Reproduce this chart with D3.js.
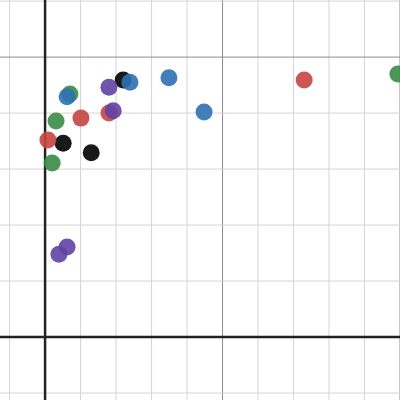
<!DOCTYPE html>
<html><head><meta charset="utf-8">
<script src="https://cdn.jsdelivr.net/npm/d3@7"></script>
<style>body{margin:0;background:#fff}svg{display:block}</style>
</head><body>
<svg id="c" width="400" height="400"></svg>
<script>
const xDomain=[-1.27,10];
const yDomain=[-1.125,6.02];
const seriesNames=["green","black","red","blue","purple"];
const seriesColors=["#388c46","#000000","#c74440","#2d70b3","#6042a6"];
const greenPts=[[0.70,4.34],[0.31,3.86],[0.20,3.11],[9.94,4.70]];
const blackPts=[[2.20,4.59],[0.51,3.46],[1.30,3.29]];
const redPts=[[0.08,3.52],[1.01,3.91],[1.80,4.0],[7.30,4.59]];
const bluePts=[[0.62,4.29],[2.39,4.55],[3.49,4.63],[4.48,4.02]];
const purplePts=[[1.80,4.46],[1.92,4.04],[0.62,1.61],[0.39,1.48]];
const allSeries=[greenPts,blackPts,redPts,bluePts,purplePts];

const svg=d3.select("#c");
const x=d3.scaleLinear().domain(xDomain).range([0,400]);
const y=d3.scaleLinear().domain(yDomain).range([400,0]);
const xt=d3.range(-1,11), yt=d3.range(-1,7);
svg.append("g").selectAll("line").data(xt).join("line")
 .attr("x1",d=>x(d)).attr("x2",d=>x(d)).attr("y1",0).attr("y2",400)
 .attr("stroke",d=>d%5===0?"#8c8c8c":"#d4d4d4").attr("stroke-width",1);
svg.append("g").selectAll("line").data(yt).join("line")
 .attr("y1",d=>y(d)).attr("y2",d=>y(d)).attr("x1",0).attr("x2",400)
 .attr("stroke",d=>d%5===0?"#8c8c8c":"#d4d4d4").attr("stroke-width",1);
svg.append("line").attr("x1",x(0)).attr("x2",x(0)).attr("y1",0).attr("y2",400).attr("stroke","#222").attr("stroke-width",2.5);
svg.append("line").attr("y1",y(0)).attr("y2",y(0)).attr("x1",0).attr("x2",400).attr("stroke","#222").attr("stroke-width",2.5);
allSeries.forEach((pts,i)=>{
 svg.append("g").selectAll("circle").data(pts).join("circle")
  .attr("cx",d=>x(d[0])).attr("cy",d=>y(d[1])).attr("r",8.5)
  .attr("fill",seriesColors[i]).attr("fill-opacity",0.9);
});
</script>
</body></html>
